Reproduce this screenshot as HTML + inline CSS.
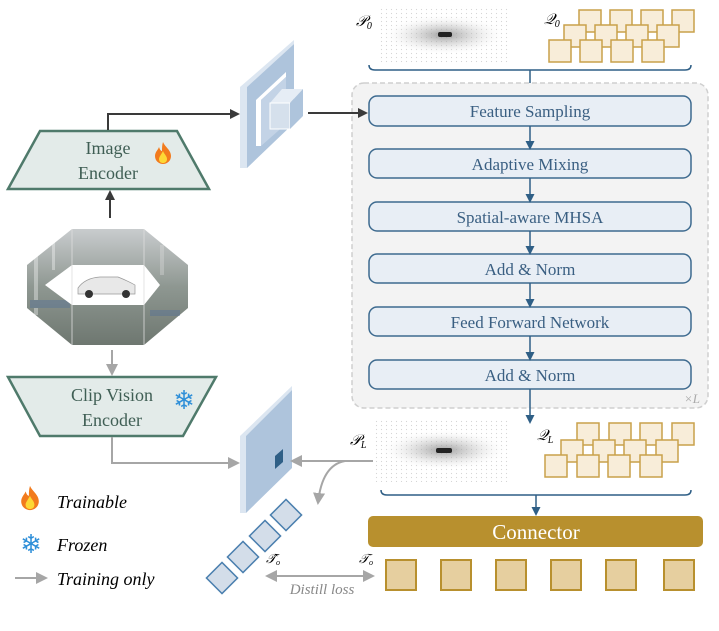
<!DOCTYPE html>
<html><head><meta charset="utf-8"><style>
html,body{margin:0;padding:0;background:#fff}
svg{display:block}
text{font-family:"Liberation Serif",serif}
</style></head><body>
<svg width="719" height="631" viewBox="0 0 719 631" xmlns="http://www.w3.org/2000/svg">
<defs>
<marker id="ad" markerWidth="10" markerHeight="10" refX="8" refY="5" orient="auto" markerUnits="userSpaceOnUse"><path d="M0,0 L10,5 L0,10 z" fill="#3a3a3a"/></marker>
<marker id="ab" markerWidth="9" markerHeight="9" refX="7" refY="4.5" orient="auto" markerUnits="userSpaceOnUse"><path d="M0,0 L9,4.5 L0,9 z" fill="#2f5f86"/></marker>
<marker id="ag" markerWidth="12" markerHeight="12" refX="10" refY="6" orient="auto" markerUnits="userSpaceOnUse"><path d="M0,0 L12,6 L0,12 z" fill="#a6a6a6"/></marker>
<marker id="ags" markerWidth="12" markerHeight="12" refX="2" refY="6" orient="auto" markerUnits="userSpaceOnUse"><path d="M12,0 L0,6 L12,12 z" fill="#a6a6a6"/></marker>
<pattern id="dots" width="5" height="4" patternUnits="userSpaceOnUse"><circle cx="1.5" cy="1.5" r="0.6" fill="#aaa"/></pattern>
<radialGradient id="cg" cx="0.5" cy="0.5" r="0.5"><stop offset="0" stop-color="#888" stop-opacity="0.8"/><stop offset="0.5" stop-color="#bbb" stop-opacity="0.4"/><stop offset="1" stop-color="#fff" stop-opacity="0"/></radialGradient>
<linearGradient id="img" x1="0" y1="0" x2="0" y2="1"><stop offset="0" stop-color="#c9ccce"/><stop offset="0.5" stop-color="#8e9791"/><stop offset="1" stop-color="#6e7770"/></linearGradient>
<symbol id="flame" viewBox="0 0 20 24"><path d="M10,1 C12,6 18,9 18,15 C18,20 14,23 10,23 C6,23 2,20 2,15 C2,11 5,9 6,6 C7,9 8,10 9,10 C9,7 9,4 10,1z" fill="#f27b1d"/><path d="M10,10 C11,13 14,15 14,18 C14,21 12,22 10,22 C8,22 6,21 6,18 C6,16 8,14 10,10z" fill="#fdd835"/></symbol>
</defs>

<!-- top P0 cloud -->
<text x="356" y="26" font-size="15" font-style="italic">𝒫<tspan font-size="10" dy="3">0</tspan></text>
<rect x="378" y="6" width="132" height="58" fill="url(#dots)" opacity="0.5"/>
<ellipse cx="444" cy="35" rx="62" ry="20" fill="url(#cg)"/>
<rect x="438" y="32" width="14" height="5" rx="2" fill="#222"/>
<!-- Q0 -->
<text x="544" y="24" font-size="15" font-style="italic">𝒬<tspan font-size="10" dy="3">0</tspan></text>
<g fill="#f8edd9" stroke="#c9a14a" stroke-width="1.5">
<rect x="579" y="10" width="22" height="22"/><rect x="610" y="10" width="22" height="22"/><rect x="641" y="10" width="22" height="22"/><rect x="672" y="10" width="22" height="22"/>
<rect x="564" y="25" width="22" height="22"/><rect x="595" y="25" width="22" height="22"/><rect x="626" y="25" width="22" height="22"/><rect x="657" y="25" width="22" height="22"/>
<rect x="549" y="40" width="22" height="22"/><rect x="580" y="40" width="22" height="22"/><rect x="611" y="40" width="22" height="22"/><rect x="642" y="40" width="22" height="22"/>
</g>
<path d="M369,65 Q369,70 375,70 L685,70 Q691,70 691,65" fill="none" stroke="#2f5f86" stroke-width="1.5"/>
<line x1="530" y1="70" x2="530" y2="95" stroke="#2f5f86" stroke-width="1.5" marker-end="url(#ab)"/>

<!-- dashed region -->
<rect x="352" y="83" width="356" height="325" rx="12" fill="#f3f3f3" stroke="#cfcfcf" stroke-width="1.5" stroke-dasharray="5,3"/>
<text x="684" y="403" font-size="13" fill="#aaa" font-style="italic">×L</text>
<g fill="#e8eef5" stroke="#3d6a8f" stroke-width="1.5">
<rect x="369" y="96" width="322" height="30" rx="8"/>
<rect x="369" y="149" width="322" height="29" rx="8"/>
<rect x="369" y="202" width="322" height="29" rx="8"/>
<rect x="369" y="254" width="322" height="29" rx="8"/>
<rect x="369" y="307" width="322" height="29" rx="8"/>
<rect x="369" y="360" width="322" height="29" rx="8"/>
</g>
<g stroke="#2f5f86" stroke-width="1.5">
<line x1="530" y1="126" x2="530" y2="148" marker-end="url(#ab)"/>
<line x1="530" y1="178" x2="530" y2="201" marker-end="url(#ab)"/>
<line x1="530" y1="231" x2="530" y2="253" marker-end="url(#ab)"/>
<line x1="530" y1="283" x2="530" y2="306" marker-end="url(#ab)"/>
<line x1="530" y1="336" x2="530" y2="359" marker-end="url(#ab)"/>
<line x1="530" y1="389" x2="530" y2="422" marker-end="url(#ab)"/>
</g>
<g font-size="17" fill="#3a5f82" text-anchor="middle">
<text x="530" y="117">Feature Sampling</text>
<text x="530" y="170">Adaptive Mixing</text>
<text x="530" y="223">Spatial-aware MHSA</text>
<text x="530" y="275">Add &amp; Norm</text>
<text x="530" y="328">Feed Forward Network</text>
<text x="530" y="381">Add &amp; Norm</text>
</g>

<!-- PL cloud -->
<text x="350" y="445" font-size="15" font-style="italic">𝒫<tspan font-size="10" dy="3">L</tspan></text>
<rect x="374" y="420" width="136" height="62" fill="url(#dots)" opacity="0.5"/>
<ellipse cx="444" cy="450" rx="64" ry="20" fill="url(#cg)"/>
<rect x="436" y="448" width="16" height="5" rx="2" fill="#222"/>
<text x="537" y="440" font-size="15" font-style="italic">𝒬<tspan font-size="10" dy="3">L</tspan></text>
<g fill="#f8edd9" stroke="#c9a14a" stroke-width="1.5">
<rect x="577" y="423" width="22" height="22"/><rect x="609" y="423" width="22" height="22"/><rect x="640" y="423" width="22" height="22"/><rect x="672" y="423" width="22" height="22"/>
<rect x="561" y="440" width="22" height="22"/><rect x="593" y="440" width="22" height="22"/><rect x="624" y="440" width="22" height="22"/><rect x="656" y="440" width="22" height="22"/>
<rect x="545" y="455" width="22" height="22"/><rect x="577" y="455" width="22" height="22"/><rect x="608" y="455" width="22" height="22"/><rect x="640" y="455" width="22" height="22"/>
</g>
<path d="M381,490 Q381,495 387,495 L685,495 Q691,495 691,490" fill="none" stroke="#2f5f86" stroke-width="1.5"/>
<line x1="536" y1="495" x2="536" y2="514" stroke="#2f5f86" stroke-width="1.5" marker-end="url(#ab)"/>

<!-- connector -->
<rect x="368" y="516" width="335" height="31" rx="5" fill="#b8902e"/>
<text x="536" y="539" font-size="21" fill="#fff" text-anchor="middle">Connector</text>
<g fill="#e6cf9f" stroke="#b8902e" stroke-width="2">
<rect x="386" y="560" width="30" height="30"/><rect x="441" y="560" width="30" height="30"/><rect x="496" y="560" width="30" height="30"/>
<rect x="551" y="560" width="30" height="30"/><rect x="606" y="560" width="30" height="30"/><rect x="664" y="560" width="30" height="30"/>
</g>

<!-- distill -->
<line x1="267" y1="576" x2="373" y2="576" stroke="#a6a6a6" stroke-width="2" marker-start="url(#ags)" marker-end="url(#ag)"/>
<text x="322" y="594" font-size="15" fill="#888" font-style="italic" text-anchor="middle">Distill loss</text>
<text x="266" y="563" font-size="13" font-style="italic">𝒯̂<tspan font-size="8" dy="2">o</tspan></text>
<text x="359" y="563" font-size="13" font-style="italic">𝒯<tspan font-size="8" dy="2">o</tspan></text>

<!-- clip feature slab -->
<polygon points="240,436 292,386 292,390 246,436" fill="#dce6f1"/>
<polygon points="240,436 246,436 246,513 240,513" fill="#dce6f1"/>
<polygon points="246,436 292,390 292,468 246,513" fill="#aec4dc"/>
<polygon points="275,456 283,449 283,462 275,469" fill="#2f5f86"/>
<line x1="373" y1="461" x2="292" y2="461" stroke="#a6a6a6" stroke-width="2" marker-end="url(#ag)"/>
<path d="M345,461 Q322,465 318,503" fill="none" stroke="#a6a6a6" stroke-width="2" marker-end="url(#ag)"/>
<g fill="#d3dde9" stroke="#4a7fae" stroke-width="1.5">
<rect x="-11" y="-11" width="22" height="22" transform="translate(286,515) rotate(45)"/>
<rect x="-11" y="-11" width="22" height="22" transform="translate(265,536) rotate(45)"/>
<rect x="-11" y="-11" width="22" height="22" transform="translate(243,557) rotate(45)"/>
<rect x="-11" y="-11" width="22" height="22" transform="translate(222,578) rotate(45)"/>
</g>

<!-- image feature cube -->
<polygon points="240,87 294,40 294,44 247,87" fill="#dce6f1"/>
<rect x="240" y="87" width="7" height="81" fill="#dce6f1"/>
<polygon points="247,87 294,44 294,123 247,168" fill="#aec4dc"/>
<polygon points="256,100 286,72 286,77 261,100" fill="#fff"/>
<polygon points="256,100 261,100 261,146 256,146" fill="#fff"/>
<polygon points="261,100 286,77 286,124 261,146" fill="#c3d3e6"/>
<polygon points="270,103 282,89 303,89 290,103" fill="#e6edf5"/>
<rect x="270" y="103" width="20" height="26" fill="#d5e0ec" stroke="#fff"/>
<polygon points="290,103 303,89 303,116 290,129" fill="#aec4dc"/>
<line x1="308" y1="113" x2="366" y2="113" stroke="#3a3a3a" stroke-width="2" marker-end="url(#ad)"/>

<!-- image encoder -->
<polygon points="40,131 177,131 209,189 8,189" fill="#e3ebe9" stroke="#4f7a6b" stroke-width="2.5"/>
<text x="108" y="154" font-size="18" fill="#3f5e54" text-anchor="middle">Image</text>
<text x="108" y="179" font-size="18" fill="#3f5e54" text-anchor="middle">Encoder</text>
<use href="#flame" x="153" y="141" width="20" height="24"/>
<polyline points="108,130 108,114 238,114" fill="none" stroke="#3a3a3a" stroke-width="2" marker-end="url(#ad)"/>
<line x1="110" y1="218" x2="110" y2="192" stroke="#3a3a3a" stroke-width="2" marker-end="url(#ad)"/>

<!-- octagon surround images -->
<polygon points="72,229 144,229 188,265 188,308 144,345 72,345 27,308 27,265" fill="url(#img)"/>
<g opacity="0.35">
<rect x="34" y="255" width="4" height="60" fill="#fff"/>
<rect x="52" y="240" width="3" height="30" fill="#fff"/>
<rect x="160" y="245" width="4" height="30" fill="#e0e0e0"/>
<rect x="30" y="300" width="40" height="8" fill="#4a6a9a"/>
<rect x="150" y="310" width="30" height="6" fill="#4a6a9a"/>
</g>
<polygon points="72,265 144,265 160,285 144,305 72,305 45,285" fill="#fff"/>
<path d="M78,288 Q85,278 100,277 L118,277 Q128,281 135,285 L135,294 L78,294 z" fill="#e8e8e8" stroke="#999" stroke-width="0.7"/>
<circle cx="89" cy="294" r="4" fill="#333"/><circle cx="126" cy="294" r="4" fill="#333"/>
<line x1="72" y1="229" x2="72" y2="345" stroke="#ddd" stroke-width="0.8"/>
<line x1="144" y1="229" x2="144" y2="345" stroke="#ddd" stroke-width="0.8"/>

<!-- clip vision encoder -->
<line x1="112" y1="350" x2="112" y2="374" stroke="#a6a6a6" stroke-width="2" marker-end="url(#ag)"/>
<polygon points="8,377 216,377 183,436 40,436" fill="#e3ebe9" stroke="#4f7a6b" stroke-width="2.5"/>
<text x="112" y="401" font-size="18" fill="#3f5e54" text-anchor="middle">Clip Vision</text>
<text x="112" y="426" font-size="18" fill="#3f5e54" text-anchor="middle">Encoder</text>
<text x="184" y="409" font-size="26" fill="#2f8fd8" text-anchor="middle" font-family="DejaVu Sans">❄</text>
<polyline points="112,437 112,463 238,463" fill="none" stroke="#a6a6a6" stroke-width="2" marker-end="url(#ag)"/>

<!-- legend -->
<use href="#flame" x="19" y="484" width="22" height="28"/>
<text x="57" y="508" font-size="18" font-style="italic">Trainable</text>
<text x="31" y="553" font-size="26" fill="#2f8fd8" text-anchor="middle" font-family="DejaVu Sans">❄</text>
<text x="57" y="551" font-size="18" font-style="italic">Frozen</text>
<line x1="15" y1="578" x2="46" y2="578" stroke="#a6a6a6" stroke-width="2" marker-end="url(#ag)"/>
<text x="57" y="585" font-size="18" font-style="italic">Training only</text>
</svg>
</body></html>
